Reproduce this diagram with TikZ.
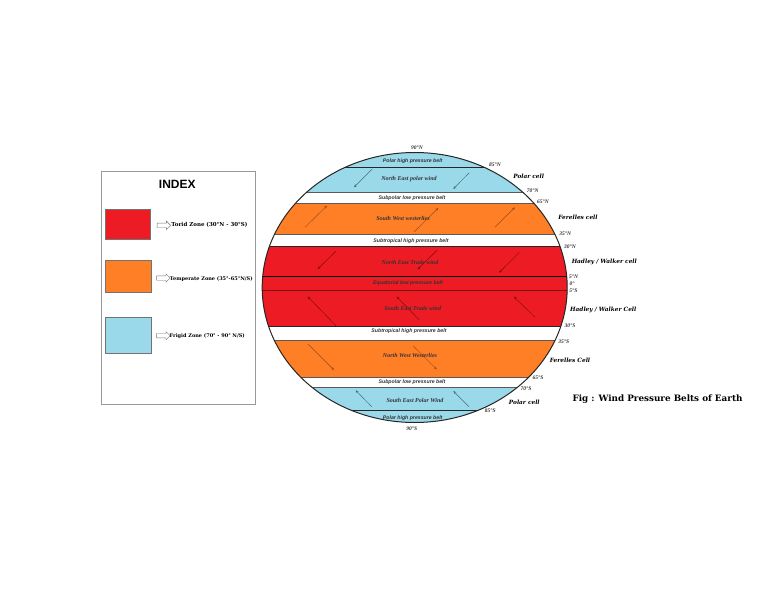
\documentclass[tikz,border=0pt]{standalone}
\usepackage{fontspec}
\setmainfont{DejaVu Serif}
\newfontfamily\beltfont{Liberation Sans}
\newfontfamily\windfont{Liberation Serif}
\usetikzlibrary{shapes.arrows,arrows.meta}
\definecolor{torid}{RGB}{237,28,36}
\definecolor{temperate}{RGB}{255,127,39}
\definecolor{frigid}{RGB}{153,217,234}
\tikzset{
  swatch/.style={draw=black!55,line width=.7pt},
  pointer/.style={single arrow,draw=black!55,fill=white,line width=.4pt,minimum height=13.5pt,
    single arrow head extend=2pt,inner xsep=0pt,inner ysep=2pt,single arrow head indent=0pt},
  keytext/.style={font=\fontsize{5}{6}\selectfont\bfseries},
  belt/.style={font=\beltfont\fontsize{5.2}{6}\selectfont\itshape\bfseries,text=black!80},
  wind/.style={font=\windfont\fontsize{6}{7}\selectfont\itshape\bfseries,text=black!80},
  lat/.style={font=\windfont\fontsize{5.5}{6}\selectfont\itshape\bfseries,text=black!80},
  cell/.style={font=\fontsize{5.8}{7}\selectfont\itshape\bfseries},
  divide/.style={draw=black!85,line width=1pt},
  flow/.style={-{Stealth[length=3pt,width=2.5pt]},line width=.45pt}
}
\begin{document}
\begin{tikzpicture}[x=1pt,y=-1pt,inner sep=0pt]
  \useasboundingbox (0,0) rectangle (768,594);

  % index panel
  \node[draw=black!40,line width=.8pt,minimum width=154pt,minimum height=232.6pt] (panel) at (178.3,288) {};
  \node[font=\beltfont\fontsize{12}{14}\selectfont\bfseries] (indextitle) at (177.3,184.3) {INDEX};

  \fill[torid] (105,209.7) rectangle (150.3,239.3);
  \draw[swatch] (105,209.7) rectangle (150.3,239.3);
  \fill[temperate] (105.3,260.3) rectangle (151.3,292.7);
  \draw[swatch] (105.3,260.3) rectangle (151.3,292.7);
  \fill[frigid] (105.3,317.3) rectangle (151,353.7);
  \draw[swatch] (105.3,317.3) rectangle (151,353.7);

  \node[pointer] (p1) at (162.7,225.3) {};
  \node[pointer] (p2) at (162.3,278) {};
  \node[pointer] (p3) at (162.3,335.7) {};

  \begin{scope}[every node/.style={keytext}]
    \node[font=\fontsize{5.5}{6}\selectfont\bfseries] (k1) at (209.5,225.3) {Torid Zone (30°N - 30°S)};
    \node (k2) at (211.3,279.3) {Temperate Zone (35°-65°N/S)};
    \node (k3) at (207.3,335.7) {Frigid Zone (70° - 90° N/S)};
  \end{scope}

  % belts
  \begin{scope}
    \clip (414.7,287.5) ellipse [x radius=152.5,y radius=135];
    \fill[frigid] (250,140) rectangle (580,192);
    \fill[temperate] (250,203) rectangle (580,234);
    \fill[torid] (250,246) rectangle (580,326);
    \fill[temperate] (250,340) rectangle (580,377);
    \fill[frigid] (250,387) rectangle (580,430);

    \draw[divide] (250,167) -- (580,167);
    \draw[divide,draw=black!65] (250,192) -- (580,192);
    \draw[divide,draw=black!65] (250,203) -- (580,203);
    \draw[divide,draw=black!65] (250,234) -- (580,234);
    \draw[divide] (250,246) -- (580,246);
    \draw[divide,draw=black] (250,276.7) -- (580,276.7);
    \draw[divide,draw=black!50!torid] (250,290) -- (580,290);
    \draw[divide] (250,326) -- (580,326);
    \draw[divide,draw=black!65] (250,340) -- (580,340);
    \draw[divide,draw=black!65] (250,377) -- (580,377);
    \draw[divide,draw=black!65] (250,387) -- (580,387);
    \draw[divide] (250,410) -- (580,410);
  \end{scope}
  \draw[line width=1pt,draw=black!85] (414.7,287.5) ellipse [x radius=152.5,y radius=135];

  % wind directions
  \begin{scope}[every path/.style={flow}]
    \draw[black!30!frigid!70!black] (372.3,169) -- (354,187.3);
    \draw[black!30!frigid!70!black] (469.3,172.7) -- (453.3,189);
    \draw[black!40!temperate] (305,227.3) -- (327,205.7);
    \draw[black!40!temperate] (414.3,231.7) -- (438.3,208);
    \draw[black!40!temperate] (495,227.3) -- (515,207.3);
    \draw[black!50!torid] (336,251) -- (317.7,269);
    \draw[black!50!torid] (437.3,250) -- (417.7,269.3);
    \draw[black!50!torid] (519.3,252.3) -- (499,272.7);
    \draw[black!50!torid] (336,325.7) -- (307.7,296.7);
    \draw[black!50!torid] (419.3,320) -- (396.7,296.7);
    \draw[black!50!torid] (535,317.3) -- (514,296.7);
    \draw[black!40!temperate] (308.3,344.3) -- (334,370);
    \draw[black!40!temperate] (413.3,346) -- (436.7,369.3);
    \draw[black!30!frigid!70!black] (371.7,406.7) -- (355.7,390.3);
    \draw[black!30!frigid!70!black] (469,406.7) -- (453.3,391);
  \end{scope}

  \begin{scope}[every node/.style={belt}]
    \node (b1) at (412.7,160.7) {Polar high pressure belt};
    \node (b2) at (412,197.7) {Subpolar low pressure belt};
    \node (b3) at (411,240.7) {Subtropical high pressure belt};
    \node (b4) at (408,282.8) {Equatorial low pressure belt};
    \node (b5) at (409,331) {Subtropical high pressure belt};
    \node (b6) at (412,381.7) {Subpolar low pressure belt};
    \node (b7) at (412.7,418) {Polar high pressure belt};
  \end{scope}

  \begin{scope}[every node/.style={wind}]
    \node (w1) at (409,179) {North East polar wind};
    \node (w2) at (403,218) {South West westerlies};
    \node (w3) at (410,262) {North East Trade wind};
    \node (w4) at (412.7,308) {South East Trade wind};
    \node (w5) at (410,355.7) {North West Westerlies};
    \node (w6) at (415,400) {South East Polar Wind};
  \end{scope}

  \begin{scope}[every node/.style={lat}]
    \node (n90) at (417,148) {90°N};
    \node (n85) at (495,165) {85°N};
    \node (n70) at (532.7,190.7) {70°N};
    \node (n65) at (543,202) {65°N};
    \node (n35) at (565.3,234) {35°N};
    \node (n30) at (570,246.7) {30°N};
    \node (n5) at (573.7,276.7) {5°N};
    \node (eq) at (572,284) {0°};
    \node (s5) at (573.3,290.7) {5°S};
    \node (s30) at (570,325.7) {30°S};
    \node (s35) at (563.7,341.3) {35°S};
    \node (s65) at (538,377.3) {65°S};
    \node (s70) at (526,388.3) {70°S};
    \node (s85) at (490.3,410.3) {85°S};
    \node (s90) at (411.7,428.7) {90°S};
  \end{scope}

  \begin{scope}[every node/.style={cell}]
    \node (c1) at (528.7,176.7) {Polar cell};
    \node (c2) at (578,217) {Ferelles cell};
    \node (c3) at (604.3,262) {Hadley / Walker cell};
    \node (c4) at (603.3,310.3) {Hadley / Walker Cell};
    \node (c5) at (570,360.3) {Ferelles Cell};
    \node (c6) at (524.3,402.3) {Polar cell};
  \end{scope}

  \node[font=\fontsize{8.8}{10}\selectfont\bfseries] (caption) at (657.5,398.7) {Fig : Wind Pressure Belts of Earth};
\end{tikzpicture}
\end{document}
